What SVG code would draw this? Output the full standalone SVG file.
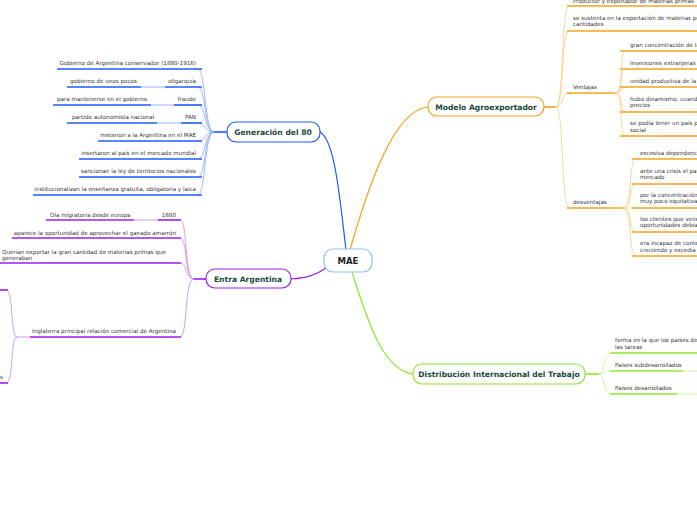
<svg xmlns="http://www.w3.org/2000/svg" width="697" height="520" viewBox="0 0 697 520">
<style>
text{font-family:"DejaVu Sans","Liberation Sans",sans-serif;font-size:5.6px;fill:#333}
.n{font-size:7.6px;font-weight:bold;fill:#1a4a3a;text-anchor:middle}
.e{text-anchor:end}
.b{stroke:#1f5bff}.p{stroke:#9b1ff0}.o{stroke:#f7a21b}.g{stroke:#8ae82a}
.u{stroke-width:1.6;fill:none}
.c{stroke-width:0.8;fill:none;opacity:.55}
.box{fill:#fff;stroke-width:1.2}
</style>
<rect width="697" height="520" fill="#fff"/>
<g id="connectors">
<path class="b" stroke-width="1.2" fill="none" d="M346,250 C340,200 335,140 320,132"/>
<path class="o" stroke-width="1.2" fill="none" d="M350,250 C370,180 395,110 428,107"/>
<path class="g" stroke-width="1.2" fill="none" d="M352,272 C370,330 385,370 413,374"/>
<path class="p" stroke-width="1.2" fill="none" d="M291,279 C305,278 315,276 326,268"/>
<!-- Generacion -->
<path class="b u" d="M227,132 H214"/>
<g class="b c">
<path d="M214,132 C204,132 206,69 198,69"/><path d="M214,132 C204,132 206,87 198,87"/><path d="M214,132 C204,132 206,105 198,105"/><path d="M214,132 C204,132 206,123 198,123"/><path d="M214,132 C204,132 206,141 198,141"/><path d="M214,132 C204,132 206,159 198,159"/><path d="M214,132 C204,132 206,177 198,177"/><path d="M214,132 C204,132 206,195 198,195"/>
<path d="M141,87 H165"/><path d="M151,105 H174"/><path d="M157,123 H181"/>
</g>
<g class="b u">
<path d="M57,69 H202"/><path d="M67,87 H141"/><path d="M165,87 H202"/><path d="M53,105 H151"/><path d="M174,105 H202"/><path d="M67,123 H157"/><path d="M181,123 H202"/><path d="M98,141 H202"/><path d="M79,159 H202"/><path d="M79,177 H202"/><path d="M33,195 H202"/>
</g>
<!-- Entra -->
<path class="p u" d="M206,279 H194"/>
<g class="p c">
<path d="M194,279 C184,279 188,220 180,220"/><path d="M194,279 C184,279 188,238 180,238"/><path d="M194,279 C184,279 188,263 180,263"/><path d="M194,279 C184,279 188,337 180,337"/>
<path d="M134,220 H158"/>
<path d="M30,337 H17 C10,337 14,290 6,290"/><path d="M17,337 C10,337 14,383 6,383"/>
</g>
<g class="p u">
<path d="M46,220 H134"/><path d="M158,220 H181"/><path d="M12,238 H181"/><path d="M0,263 H181"/><path d="M30,337 H181"/><path d="M0,290 H8"/><path d="M0,383 H8"/>
</g>
<!-- Modelo -->
<path class="o u" d="M544,107 H556"/>
<g class="o c">
<path d="M556,107 C564,107 561,6 569,6"/><path d="M556,107 C564,107 561,31 569,31"/><path d="M556,107 C564,107 561,93 569,93"/><path d="M556,107 C564,107 561,208 569,208"/>
<path d="M615,93 C625,93 618,51 626,51"/><path d="M615,93 C625,93 618,69 626,69"/><path d="M615,93 C625,93 618,87 626,87"/><path d="M615,93 C625,93 618,112 626,112"/><path d="M615,93 C625,93 618,136 626,136"/>
<path d="M623,208 C633,208 628,159 636,159"/><path d="M623,208 C633,208 628,184 636,184"/><path d="M623,208 C633,208 628,208 636,208"/><path d="M623,208 C633,208 628,232 636,232"/><path d="M623,208 C633,208 628,256 636,256"/>
</g>
<g class="o u">
<path d="M567,6 H697"/><path d="M567,31 H697"/><path d="M567,93 H615"/><path d="M567,208 H623"/>
<path d="M620,51 H697"/><path d="M620,69 H697"/><path d="M620,87 H697"/><path d="M620,112 H697"/><path d="M620,136 H697"/>
<path d="M632,159 H697"/><path d="M632,184 H697"/><path d="M632,208 H697"/><path d="M632,232 H697"/><path d="M632,256 H697"/>
</g>
<!-- Distribucion -->
<path class="g u" d="M585,374 H598"/>
<g class="g c">
<path d="M598,374 C606,374 603,353 611,353"/><path d="M598,374 C606,374 603,371 611,371"/><path d="M598,374 C606,374 603,394 611,394"/>
<path d="M683,371 H697"/><path d="M677,394 H697"/>
</g>
<g class="g u"><path d="M610,353 H697"/><path d="M610,371 H683"/><path d="M610,394 H677"/></g>
</g>
<g id="mae"><rect class="box" x="324" y="249" width="48" height="23" rx="9" stroke="#8dc2ea" stroke-width="1.8"/><text class="n" x="348" y="264" style="font-size:8.5px;fill:#222">MAE</text></g>
<g id="generacion"><rect class="box b" x="227" y="122" width="93" height="20" rx="9"/><text class="n" x="273" y="135">Generación del 80</text>
<text class="e" x="196" y="65">Gobierno de Argentina conservador (1880-1916)</text>
<text x="70" y="83">gobierno de unos pocos</text><text class="e" x="196" y="83">oligarquía</text>
<text x="57" y="101">para mantenerse en el gobierno</text><text class="e" x="196" y="101">fraude</text>
<text x="72" y="119">partido autonomista nacional</text><text class="e" x="196" y="119">PAN</text>
<text class="e" x="196" y="137">metieron a la Argentina en el MAE</text>
<text class="e" x="196" y="155">insertaron al país en el mercado mundial</text>
<text class="e" x="196" y="173">sancionan la ley de territorios nacionales</text>
<text class="e" x="196" y="191">institucionalizan la enseñanza gratuita, obligatoria y laica</text>
</g>
<g id="entra"><rect class="box p" x="206" y="269" width="85" height="19" rx="9"/><text class="n" x="248" y="282">Entra Argentina</text>
<text x="50" y="217">Ola migratoria desde europa</text><text class="e" x="176" y="217">1880</text>
<text class="e" x="176" y="235">aparece la oportunidad de aprovechar el ganado amarrón</text>
<text x="2" y="254">Querían exportar la gran cantidad de materias primas que</text><text x="2" y="260">generaban</text>
<text class="e" x="176" y="333">Inglaterra principal relación comercial de Argentina</text>
<text class="e" x="3" y="379">s</text>
</g>
<g id="modelo"><rect class="box o" x="428" y="97" width="116" height="19" rx="9"/><text class="n" x="486" y="110">Modelo Agroexportador</text>
<text x="573" y="3">Productor y exportador de materias primas</text>
<text x="573" y="20">se sustenta en la exportación de materias primas en grandes</text><text x="573" y="26">cantidades</text>
<text x="573" y="89">Ventajas</text>
<text x="630" y="47">gran concentración de la tierra</text>
<text x="630" y="65">Inversiones extranjeras</text>
<text x="630" y="83">unidad productiva de la estancia</text>
<text x="630" y="101">hubo dinamismo, cuando subían los</text><text x="630" y="107">precios</text>
<text x="630" y="125">se podía tener un país p</text><text x="630" y="132">social</text>
<text x="573" y="204">desventajas</text>
<text x="640" y="155">excesiva dependencia</text>
<text x="640" y="173">ante una crisis el país</text><text x="640" y="179">mercado</text>
<text x="640" y="197">por la concentración</text><text x="640" y="203">muy poco equitativa</text>
<text x="640" y="221">los clientes que vinie</text><text x="640" y="227">oportunidades debían</text>
<text x="640" y="245">era incapaz de conte</text><text x="640" y="252">creciendo y excedía l</text>
</g>
<g id="distribucion"><rect class="box g" x="413" y="364" width="172" height="20" rx="9"/><text class="n" x="499" y="377">Distribución Internacional del Trabajo</text>
<text x="615" y="342">forma en la que los países de</text><text x="615" y="349">las tareas</text>
<text x="615" y="367">Países subdesarrollados</text>
<text x="615" y="390">Países desarrollados</text>
</g>
</svg>
